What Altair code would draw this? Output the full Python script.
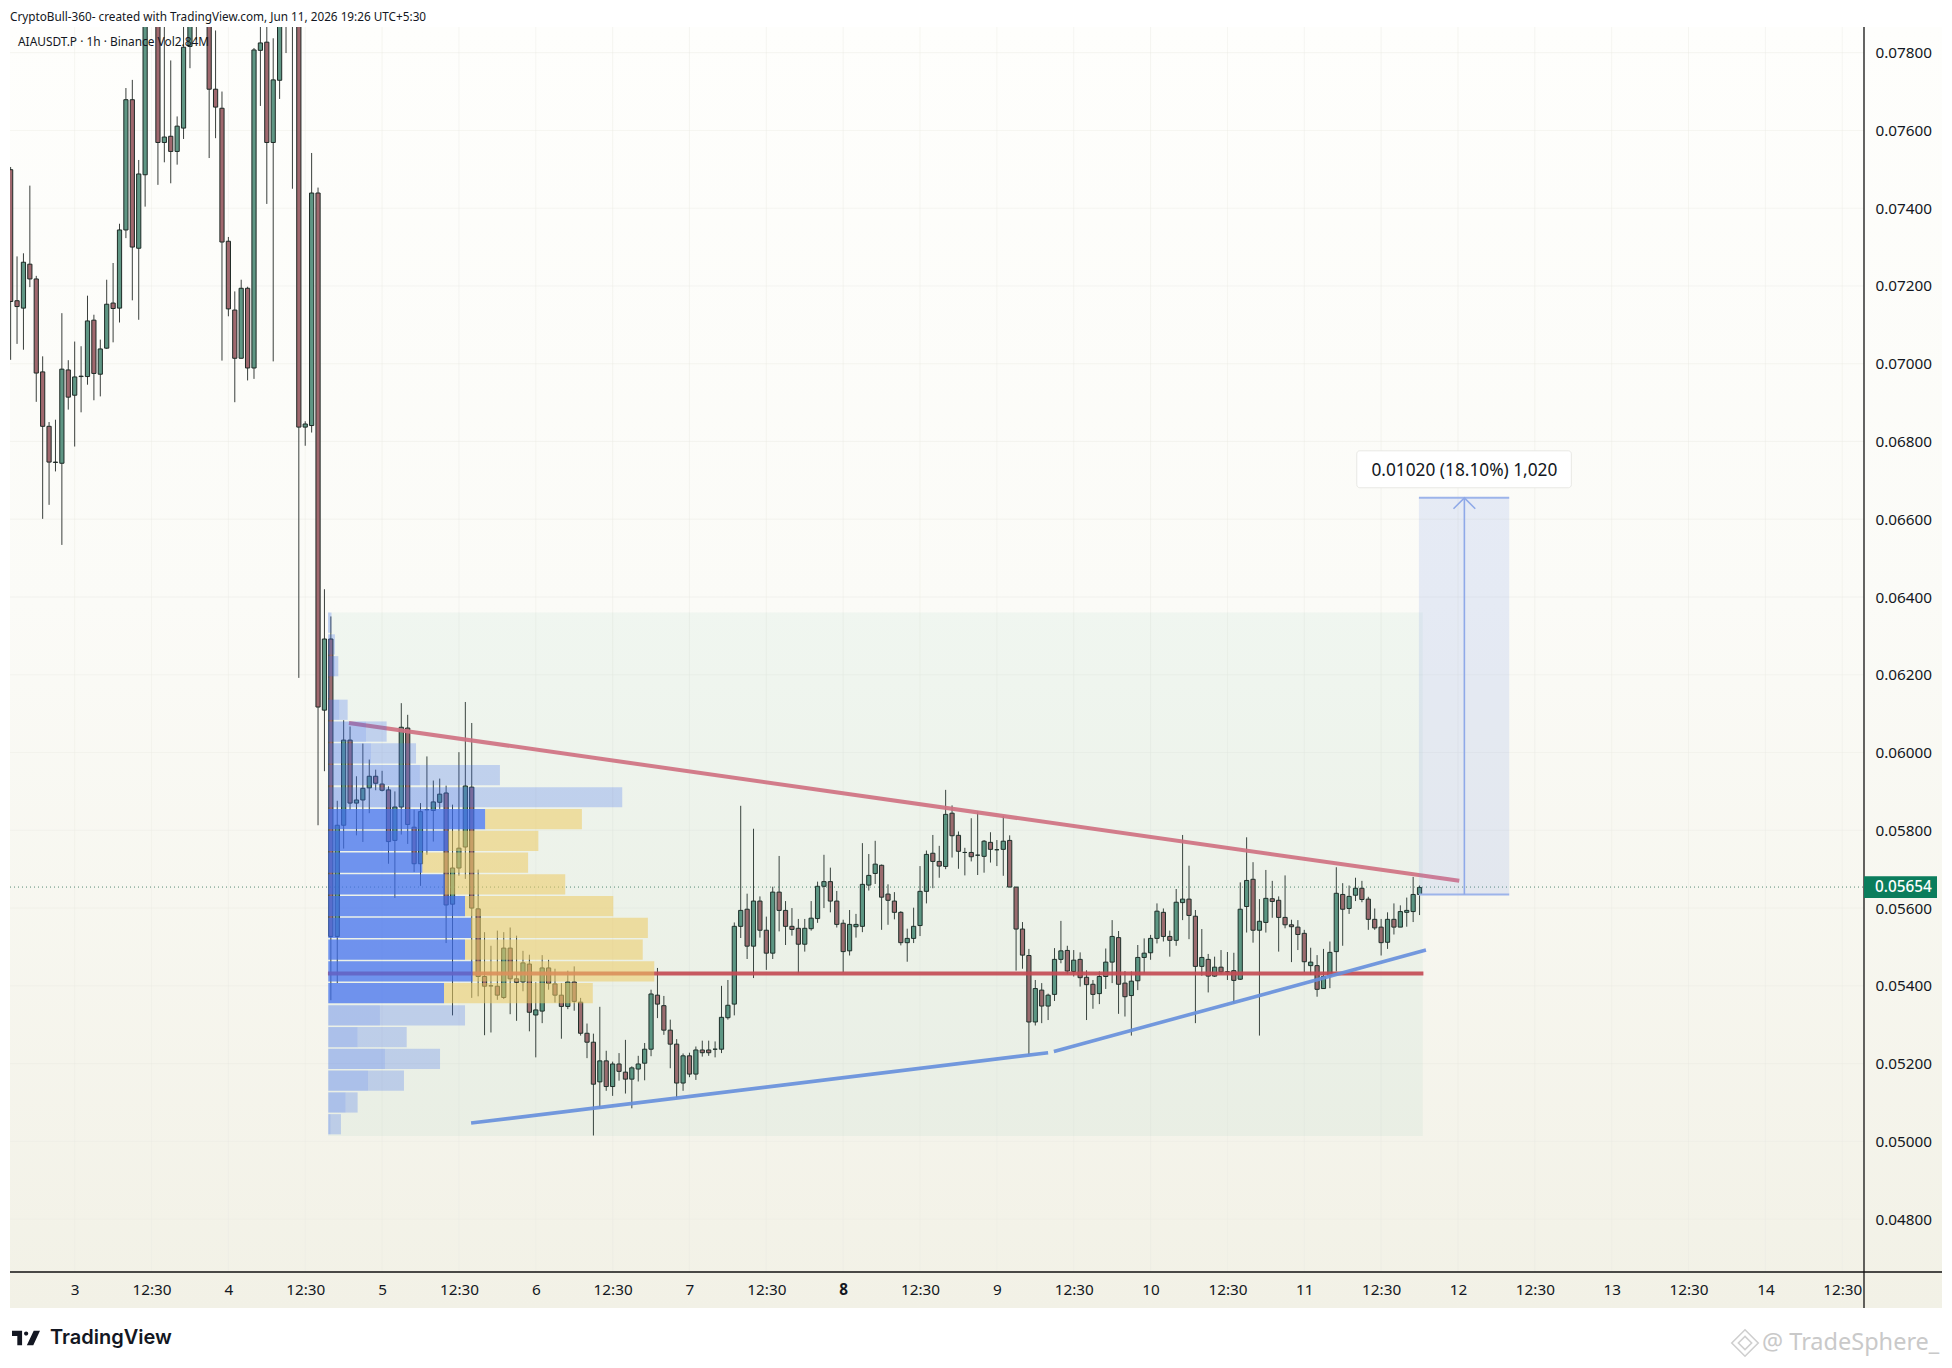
import altair as alt
import pandas as pd

# ---- candle data (price in 1/100000 USDT), hour -10 ... 210, label "3" = hour 0
first_hour = -10
body_top = [
7499,7162,7261,7256,7218,6979,6839,6747,6986,6984,
6966,6968,7110,7112,7038,7153,7156,7344,7679,7679,
7488,7900,8050,7960,7583,7585,7611,7814,7900,7950,
8000,7950,7706,7657,7315,7138,7194,7194,7807,7825,
7827,7730,7900,7950,7950,7950,6845,7439,7439,6292,
6292,5813,6032,6032,5878,5908,5939,5939,5919,5904,
5860,6065,6063,5808,5848,5853,5873,5893,5896,5703,
5754,5914,5911,5598,5424,5400,5399,5497,5497,5418,
5459,5456,5338,5446,5446,5405,5376,5410,5410,5358,
5278,5255,5207,5207,5199,5199,5178,5189,5199,5237,
5379,5376,5349,5286,5250,5220,5220,5235,5235,5235,
5237,5319,5350,5553,5594,5597,5618,5618,5543,5641,
5641,5594,5553,5548,5548,5574,5656,5668,5668,5618,
5561,5558,5558,5661,5684,5713,5710,5636,5618,5589,
5522,5553,5643,5738,5741,5720,5841,5844,5787,5743,
5743,5736,5772,5769,5750,5772,5774,5654,5546,5478,
5393,5389,5376,5468,5490,5491,5466,5468,5422,5404,
5424,5461,5527,5524,5407,5412,5473,5484,5522,5592,
5589,5527,5615,5623,5623,5579,5473,5468,5448,5448,
5436,5439,5597,5671,5674,5566,5625,5624,5620,5576,
5557,5551,5535,5461,5452,5424,5486,5638,5635,5630,
5651,5651,5623,5571,5551,5571,5571,5591,5594,5635,
5653]
body_bottom = [
7160,7147,7143,7218,6976,6839,6747,6746,6744,6914,
6919,6967,6967,6975,6973,7040,7142,7143,7344,7300,
7297,7486,7950,7569,7569,7546,7546,7606,7816,7900,
7960,7706,7660,7313,7141,7014,7014,6989,6989,7806,
7569,7569,7729,7900,7900,6837,6837,6841,6117,6109,
5527,5527,5813,5870,5870,5878,5909,5921,5903,5771,
5774,5860,5815,5714,5714,5853,5851,5872,5608,5610,
5703,5757,5600,5424,5399,5400,5376,5370,5418,5409,
5410,5332,5325,5335,5406,5376,5347,5347,5360,5278,
5255,5147,5153,5141,5141,5180,5160,5160,5186,5201,
5237,5353,5286,5250,5150,5150,5173,5173,5228,5228,
5237,5237,5318,5353,5553,5502,5502,5543,5484,5484,
5594,5553,5545,5507,5507,5547,5573,5656,5618,5558,
5488,5490,5552,5553,5659,5689,5628,5620,5589,5511,
5511,5522,5555,5643,5720,5708,5707,5786,5746,5743,
5732,5736,5733,5751,5750,5751,5654,5546,5479,5307,
5307,5348,5348,5378,5468,5438,5437,5421,5403,5378,
5380,5424,5461,5404,5372,5375,5413,5473,5485,5522,
5527,5517,5517,5614,5581,5450,5450,5425,5425,5436,
5436,5414,5417,5604,5543,5543,5563,5617,5576,5557,
5552,5532,5462,5452,5391,5393,5426,5488,5597,5599,
5633,5622,5571,5549,5511,5512,5551,5551,5589,5591,
5635]
wick_high = [
7506,7276,7284,7458,7226,7019,6850,6856,7130,7009,
7057,7045,7175,7126,7062,7216,7259,7360,7709,7730,
7524,7950,8100,8000,7900,7780,7636,7900,7950,8000,
8030,8000,7857,7700,7326,7186,7216,7198,7812,7900,
7900,7837,7950,8000,8000,8000,6852,7542,7453,6420,
6350,5876,6083,6067,5939,6023,5982,5956,5953,5913,
5900,6127,6097,5853,5870,5990,5928,5933,5915,5866,
6001,6130,6076,5699,5538,5503,5542,5538,5550,5529,
5490,5480,5409,5479,5467,5444,5407,5439,5450,5369,
5303,5277,5346,5233,5205,5227,5261,5193,5220,5253,
5390,5446,5374,5313,5263,5226,5228,5244,5259,5259,
5257,5400,5415,5563,5863,5637,5804,5630,5578,5655,
5734,5618,5600,5572,5572,5618,5668,5737,5704,5644,
5570,5595,5585,5767,5739,5773,5712,5661,5641,5592,
5547,5601,5708,5748,5788,5760,5904,5864,5797,5755,
5831,5848,5775,5795,5775,5837,5787,5654,5564,5495,
5415,5407,5380,5497,5567,5503,5492,5486,5440,5415,
5437,5496,5569,5541,5438,5437,5505,5522,5531,5612,
5599,5542,5649,5788,5709,5595,5546,5482,5475,5492,
5487,5485,5666,5782,5718,5623,5698,5670,5630,5684,
5570,5569,5544,5498,5479,5495,5514,5705,5664,5658,
5678,5670,5629,5599,5572,5589,5612,5607,5627,5680,
5658]
wick_low = [
7010,7051,7036,7197,6902,6601,6637,6723,6534,6882,
6787,6875,6946,6906,6916,7038,7055,7106,7323,7163,
7113,7404,7900,7460,7518,7464,7512,7578,7760,7833,
7910,7529,7580,7008,7122,6901,7014,6957,6961,7663,
7411,7006,7681,7799,7450,6192,6789,6823,5813,5952,
5363,5407,5753,5853,5787,5770,5844,5903,5900,5714,
5626,5789,5765,5693,5657,5737,5771,5855,5510,5324,
5683,5675,5369,5373,5273,5280,5364,5366,5327,5310,
5386,5283,5216,5304,5390,5357,5264,5340,5336,5272,
5214,5015,5087,5130,5117,5156,5123,5085,5154,5157,
5219,5317,5274,5188,5112,5130,5165,5158,5218,5220,
5216,5227,5313,5324,5523,5469,5420,5524,5441,5469,
5540,5505,5529,5432,5488,5542,5562,5600,5589,5550,
5435,5478,5524,5538,5645,5662,5544,5557,5571,5504,
5462,5510,5528,5612,5651,5678,5700,5730,5701,5684,
5720,5685,5691,5717,5708,5683,5654,5439,5444,5223,
5298,5304,5312,5361,5458,5430,5424,5398,5312,5341,
5353,5392,5407,5328,5321,5272,5389,5432,5467,5509,
5514,5475,5503,5569,5520,5304,5426,5383,5423,5430,
5415,5355,5415,5537,5511,5272,5537,5575,5488,5548,
5461,5492,5435,5428,5372,5393,5394,5437,5503,5585,
5618,5615,5544,5544,5478,5495,5532,5551,5552,5564,
5582]
direction = (
"rrgrrrrrgr" "gggrggrggr" "gggrgrgggg" "rrrrrrgrgg" "rgggrrggrg"
"rggrgggrrr" "ggrrggggrg" "ggrrrrrgrr" "grggrrrgrr" "rrgrgrrggg"
"grrrrgrgrr" "gggggrgrrg" "rrrrggggrr" "rgggggrrrr" "ggggrrgrrr"
"rggrggrrrr" "grgggrgrrr" "gggrrggggg" "rrggrrgrgr" "grggrggrrr"
"rrrgrgggrg" "grrrrgrggg" "g")
assert len(body_top) == len(body_bottom) == len(wick_high) == len(wick_low) == len(direction)

# ---- volume profile rows
vp_row_top = [6360,6304,6248,6192,6136,6080,6024,5968,5911,5855,5799,5743,5687,
              5631,5575,5519,5463,5407,5350,5294,5238,5182,5126,5070]
vp_up   = [0.2,0.3,1.04,0.1,1.72,5.89,6.67,14.3,22.9,24.5,18.75,14.7,18.2,
           21.35,22.3,21.35,22.55,18.07,8.07,4.58,8.85,6.2,2.71,0.36]
vp_down = [0.3,0.74,0.52,0.05,1.3,3.22,7.03,12.5,23.0,15.1,14.05,16.5,18.8,
           23.15,27.6,27.75,28.35,23.23,13.28,7.66,8.6,5.62,1.87,1.62]
vp_value_area = [False]*9 + [True]*9 + [False]*6
vp_row_span = 52
vp_start = 39.6

# ---- drawings
box_green = dict(x=39.55, x2=210.5, y=0.0636, y2=0.05014)
target = dict(x=209.9, x2=224.0, y=0.06655, y2=0.05635)
lines = [
    dict(id="res", x=[42.83, 216.2], p=[0.06076, 0.05670], c="#d96f82", w=4),
    dict(id="poc", x=[39.55, 210.6], p=[0.05432, 0.05432], c="#cc4653", w=4),
    dict(id="sup1", x=[61.9, 152.0], p=[0.05047, 0.05228], c="#6a8fe2", w=3.6),
    dict(id="sup2", x=[152.9, 211.0], p=[0.05231, 0.05492], c="#6a8fe2", w=3.6),
]
price_ticks = [round(0.048 + 0.002*i, 3) for i in range(16)]
time_ticks = [12*i for i in range(24)]
time_labels = ["3","12:30","4","12:30","5","12:30","6","12:30","7","12:30","8","12:30",
               "9","12:30","10","12:30","11","12:30","12","12:30","13","12:30","14","12:30"]
last_price = 0.05654

FONT = "Noto Sans"
INK = "#131722"
AXIS_SIZE = 15.3

x_scale = alt.Scale(domain=[-10.10, 279.4], nice=False, zero=False, padding=0)
y_scale = alt.Scale(domain=[0.04664, 0.07866], nice=False, zero=False)
x_axis = alt.Axis(
    values=time_ticks, grid=False, domain=False, ticks=False, labelPadding=10,
    labelExpr=f"{time_labels}[datum.value/12]", labelFont=FONT, labelFontSize=AXIS_SIZE,
    labelColor=INK, labelFlush=False, labelOverlap=False, zindex=1, title=None,
    labelFontWeight={"condition": {"test": "datum.value==120", "value": "bold"}, "value": "normal"})
y_axis = alt.Axis(
    orient="right", values=price_ticks, format=".5f", grid=False, domain=False, ticks=False,
    labelPadding=11, labelFont=FONT, labelFontSize=AXIS_SIZE, labelColor=INK, labelOverlap=False,
    zindex=1, title=None)
X = lambda f: alt.X(f, type="quantitative", scale=x_scale, axis=x_axis, title=None)
Y = lambda f: alt.Y(f, type="quantitative", scale=y_scale, axis=y_axis, title=None)

candles = pd.DataFrame({
    "h": [first_hour + i for i in range(len(body_top))],
    "top": [v/1e5 for v in body_top],
    "bot": [v/1e5 for v in body_bottom],
    "hi": [v/1e5 for v in wick_high],
    "lo": [v/1e5 for v in wick_low],
    "col": ["#5f9684" if d == "g" else "#a0686e" for d in direction],
})

# page panel
panel = alt.Chart(pd.DataFrame({"a": [0]})).mark_rect(
    fill=alt.LinearGradient(gradient="linear", x1=0, x2=0, y1=0, y2=1,
        stops=[alt.GradientStop(color="#fefefc", offset=0),
               alt.GradientStop(color="#fbfbf7", offset=0.45),
               alt.GradientStop(color="#f2f1e6", offset=1)])
).encode(x=alt.value(0), x2=alt.value(1932), y=alt.value(0), y2=alt.value(1281))

# grid
grid_v = alt.Chart(pd.DataFrame({"h": time_ticks})).mark_rule(color="#e9e9e1", opacity=0.4, strokeWidth=1).encode(
    x=X("h"), y=alt.value(0), y2=alt.value(1245))
grid_h = alt.Chart(pd.DataFrame({"p": price_ticks})).mark_rule(color="#e9e9e1", opacity=0.4, strokeWidth=1).encode(
    y=Y("p"), x=alt.value(0), x2=alt.value(1854))

wicks = alt.Chart(candles).mark_rule(color="#3a3f3c", strokeWidth=1, clip=True).encode(
    x=X("h"), y=Y("lo"), y2="hi:Q")
bodies = alt.Chart(candles).mark_bar(orient="vertical", size=4.2, stroke="#1e2a26", strokeWidth=1, clip=True).encode(
    x=X("h"), y=Y("top"), y2="bot:Q", color=alt.Color("col:N", scale=None))

# last price dotted line
dot = alt.Chart(pd.DataFrame({"p": [last_price], "x": [-10.1], "x2": [279.4]})).mark_rule(
    color="#2f6f58", strokeDash=[1, 3], strokeWidth=1, opacity=0.8).encode(y=Y("p"), x=X("x"), x2="x2:Q")

# trend lines
line_rows = [dict(id=l["id"], x=x, p=p, c=l["c"], w=l["w"]) for l in lines for x, p in zip(l["x"], l["p"])]
line_layers = [alt.Chart(pd.DataFrame([r for r in line_rows if r["id"] == l["id"]])).mark_line(
        color=l["c"], strokeWidth=l["w"], opacity=0.92).encode(x=X("x"), y=Y("p")) for l in lines]

# green range box
green = alt.Chart(pd.DataFrame([box_green])).mark_rect(color="#2ea37e", opacity=0.055).encode(
    x=X("x"), x2="x2:Q", y=Y("y"), y2="y2:Q")

# volume profile
vp = []
for top, u, d, va in zip(vp_row_top, vp_up, vp_down, vp_value_area):
    t = top/1e5
    b = (top - vp_row_span)/1e5
    if va:
        vp.append(dict(x=vp_start, x2=vp_start+u, t=t, b=b, c="#3e6df0", o=0.72))
        vp.append(dict(x=vp_start+u, x2=vp_start+u+d, t=t, b=b, c="#ecca62", o=0.55))
    else:
        vp.append(dict(x=vp_start, x2=vp_start+u, t=t, b=b, c="#3e6df0", o=0.36))
        vp.append(dict(x=vp_start+u, x2=vp_start+u+d, t=t, b=b, c="#3e6df0", o=0.26))
profile = alt.Chart(pd.DataFrame(vp)).mark_rect().encode(
    x=X("x"), x2="x2:Q", y=Y("t"), y2="b:Q",
    color=alt.Color("c:N", scale=None), opacity=alt.Opacity("o:Q", scale=None))

# target projection
tgt_fill = alt.Chart(pd.DataFrame([target])).mark_rect(color="#6a8fe2", opacity=0.15).encode(
    x=X("x"), x2="x2:Q", y=Y("y"), y2="y2:Q")
tgt_edges = alt.Chart(pd.DataFrame({"p": [target["y"], target["y2"]], "x": [target["x"]]*2, "x2": [target["x2"]]*2})).mark_rule(
    color="#9db4ea", strokeWidth=2).encode(y=Y("p"), x=X("x"), x2="x2:Q")
arrow_shaft = alt.Chart(pd.DataFrame({"x": [217.0], "a": [0.05635], "b": [0.06655]})).mark_rule(
    color="#8fa9e8", strokeWidth=1.6).encode(x=X("x"), y=Y("a"), y2="b:Q")
arrow_head = alt.Chart(pd.DataFrame({"x": [215.3, 217.0, 218.7], "p": [0.06627, 0.06655, 0.06627]})).mark_line(
    color="#8fa9e8", strokeWidth=1.6).encode(x=X("x"), y=Y("p"))
label_box = alt.Chart(pd.DataFrame({"x": [200.2], "x2": [233.7], "y": [0.06776], "y2": [0.06681]})).mark_rect(
    fill="white", stroke="#e8e8e4", strokeWidth=1, cornerRadius=3).encode(x=X("x"), x2="x2:Q", y=Y("y"), y2="y2:Q")
label_txt = alt.Chart(pd.DataFrame({"x": [217.0], "y": [0.06725], "t": ["0.01020 (18.10%) 1,020"]})).mark_text(
    font=FONT, fontSize=17.3, color=INK, align="center", baseline="middle").encode(x=X("x"), y=Y("y"), text="t:N")

# axis frame lines
frame_v = alt.Chart(pd.DataFrame({"a": [0]})).mark_rule(color="#111111", strokeWidth=1.3).encode(
    x=alt.value(1854), y=alt.value(0), y2=alt.value(1281))
frame_h = alt.Chart(pd.DataFrame({"a": [0]})).mark_rule(color="#111111", strokeWidth=1.3).encode(
    y=alt.value(1245), x=alt.value(0), x2=alt.value(1932))

# last price badge
badge = alt.Chart(pd.DataFrame({"y": [last_price + 0.00028], "y2": [last_price - 0.00028]})).mark_rect(color="#0b7d5c").encode(
    x=alt.value(1854), x2=alt.value(1927), y=Y("y"), y2="y2:Q")
badge_txt = alt.Chart(pd.DataFrame({"y": [last_price], "t": [f"{last_price:.5f}"]})).mark_text(
    font=FONT, fontSize=AXIS_SIZE, color="white", fontWeight=500, align="left", baseline="middle").encode(
    x=alt.value(1865), y=Y("y"), text="t:N")

def caption(text, px, py, size, color=INK, weight="normal", font=FONT):
    return alt.Chart(pd.DataFrame({"t": [text]})).mark_text(
        font=font, fontSize=size, color=color, fontWeight=weight, align="left", baseline="middle"
    ).encode(x=alt.value(px - 10), y=alt.value(py - 27), text="t:N")

header = caption("CryptoBull-360- created with TradingView.com, Jun 11, 2026 19:26 UTC+5:30", 10, 17, 11.75)
legend = caption("AIAUSDT.P · 1h · Binance  Vol2.84M", 18, 42, 11.9)
brand = caption("TradingView", 50, 1338, 20, weight=600, font="Inter")
water = caption("@ TradeSphere_", 1762, 1343, 23.5, color="#c9c9c9", font="Noto Sans")

logo_path = ("M-1,-0.52 L-0.28,-0.52 L-0.28,0.52 L-0.62,0.52 L-0.62,-0.14 L-1,-0.14 Z "
             "M-0.14,-0.32 A0.15,0.15 0 1 1 0.16,-0.32 A0.15,0.15 0 1 1 -0.14,-0.32 Z "
             "M0.55,-0.52 L1,-0.52 L0.52,0.52 L0.06,0.52 Z")
logo = alt.Chart(pd.DataFrame({"a": [0]})).mark_point(
    shape=logo_path, filled=True, fill=INK, opacity=1, size=784).encode(
    x=alt.value(16), y=alt.value(1311))
water_path = "M0,-1 L1,0 L0,1 L-1,0 Z M0,-0.5 L0.5,0 L0,0.5 L-0.5,0 Z"
water_icon = alt.Chart(pd.DataFrame({"a": [0]})).mark_point(
    shape=water_path, filled=False, stroke="#cfcfcf", strokeWidth=1.6, opacity=1, size=700).encode(
    x=alt.value(1735), y=alt.value(1316))

chart = alt.layer(
    panel, grid_v, grid_h, wicks, bodies, dot, *line_layers, green, profile,
    tgt_fill, tgt_edges, arrow_shaft, arrow_head, label_box, label_txt,
    frame_v, frame_h, badge, badge_txt, header, legend, brand, water, logo, water_icon
).properties(
    width=1854, height=1245,
    autosize=alt.AutoSizeParams(type="none"),
    padding={"left": 2, "top": 19, "right": 78, "bottom": 88},
    background="white",
).configure_view(stroke=None)

chart.save("out.html", embed_options={"renderer": "svg", "actions": False})
